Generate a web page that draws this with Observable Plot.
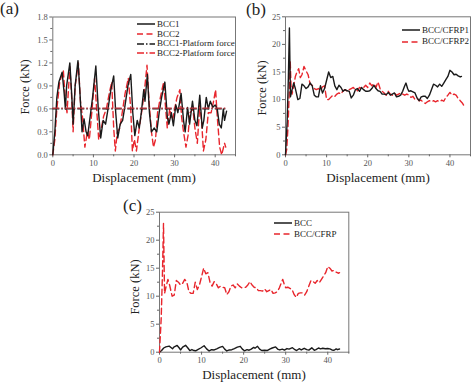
<!DOCTYPE html>
<html><head><meta charset="utf-8">
<script src="https://cdn.jsdelivr.net/npm/d3@7"></script>
<script src="https://cdn.jsdelivr.net/npm/@observablehq/plot@0.6"></script>
<style>
body{margin:0;background:#fff;}
#wrap{position:relative;width:474px;height:382px;overflow:hidden;font-family:"Times New Roman","Liberation Serif",Tinos,serif;color:#222;}
.p{position:absolute;}
.t{position:absolute;white-space:nowrap;line-height:1;}
.xt{font-size:13px;transform:translate(-50%,-50%);}
.yt{font-size:12.5px;transform:translate(-50%,-50%) rotate(-90deg);}
.pl{font-size:17px;}
.lg{position:absolute;font-size:9px;line-height:1;}
.lg div{display:flex;align-items:center;}
.lg svg{margin-right:2px;}
</style></head>
<body><div id="wrap"></div>
<script>
// ---------- data ----------
const xMajor = [0, 10, 20, 30, 40];
const xMinor = [5, 15, 25, 35, 45];
const yMajorA = [0, 0.3, 0.6, 0.9, 1.2, 1.5, 1.8];
const yMinorA = [0.15, 0.45, 0.75, 1.05, 1.35, 1.65];
const yMajorB = [0, 5, 10, 15, 20, 25];
const yMinorB = [2.5, 7.5, 12.5, 17.5, 22.5];

const bcc1X = [0,0.5,1,1.5,2.3,2.8,3.1,3.4,4.2,4.7,5.0,5.5,6.2,6.7,7.2,7.7,8.2,8.6,9.2,9.8,10.6,11.2,11.8,12.4,13,13.6,14.3,15,15.5,16,16.6,17.2,17.8,18.5,19.2,19.7,20.2,20.8,21.3,21.8,22.4,22.7,23.3,23.8,24.3,25,25.6,26.2,26.8,27.6,28.2,28.6,29.2,29.7,30.3,30.8,31.6,32.2,32.6,33.2,33.7,34.4,35,35.5,36.2,36.8,37.2,37.8,38.3,38.8,39.4,40,40.5,41,41.5,42,42.3,42.8];
const bcc1Y = [0,0.3,0.75,0.95,1.08,0.8,0.6,0.9,1.2,0.75,0.4,0.9,1.23,0.8,0.3,0.47,0.3,0.25,0.5,0.75,1.16,0.6,0.22,0.45,0.4,0.6,0.85,1.03,0.55,0.22,0.4,0.45,0.65,0.9,1.05,0.55,0.25,0.45,0.35,0.55,0.85,0.7,1.05,0.55,0.3,0.35,0.3,0.55,0.75,0.95,0.5,0.4,0.55,0.38,0.65,0.55,0.8,0.45,0.3,0.62,0.4,0.7,0.45,0.38,0.78,0.35,0.45,0.75,0.6,0.7,0.62,0.65,0.6,0.4,0.35,0.6,0.45,0.57];
const bcc2X = [0,0.5,1,1.7,2.6,3.1,3.5,4.2,4.6,5.0,5.5,6.3,6.8,7.3,7.9,8.5,9,9.6,10.3,10.8,11.3,11.8,12.5,13.2,13.9,14.5,15,15.4,15.9,16.5,17.1,17.8,18.6,19.2,19.6,20.1,20.6,21.3,22,22.6,23.2,23.7,24.3,24.8,25.3,25.8,26.5,27.3,27.8,28.2,28.8,29.5,30,30.6,31.3,31.7,32.2,32.8,33.3,33.8,34.5,35,35.6,36.2,36.7,37.1,37.7,38.3,39,39.6,40.1,40.5,41.1,41.6,42.3,42.6];
const bcc2Y = [0,0.2,0.6,0.95,1.1,0.7,0.55,1.15,0.8,0.3,0.9,1.2,0.7,0.5,0.1,0.3,0.2,0.55,1.0,0.6,0.2,0.3,0.5,0.6,0.8,0.95,0.35,0.05,0.3,0.35,0.55,0.8,1.0,0.6,0.05,0.2,0.05,0.35,0.6,0.85,1.17,0.7,0.3,0.1,0.2,0.55,0.75,0.95,0.6,0.35,0.6,0.45,0.6,0.75,0.85,0.5,0.3,0.1,0.25,0.55,0.6,0.35,0.15,0.65,0.4,0.05,0.2,0.55,0.55,0.7,0.85,0.5,0.1,0.0,0.15,0.1];
const platformRange = [0, 42.8];
const platformBCC1 = [0.60];
const platformBCC2 = [0.61];

const cfrp1X = [0,0.4,0.7,0.95,1.2,1.5,2.0,2.4,3.0,3.5,4.0,4.5,5.0,5.5,6.0,6.5,7.0,7.5,8.0,8.5,9.0,9.5,10.0,10.5,11.0,11.5,12.0,12.5,13.0,13.5,14.0,14.5,15.0,15.5,16.0,16.5,17.0,17.5,18.0,18.5,19.0,19.5,20.0,20.5,21.0,21.5,22.0,22.5,23.0,23.5,24.0,24.5,25.0,25.5,26.0,26.5,27.0,27.5,28.0,28.5,29.0,29.3,29.7,30.0,30.5,31.0,31.5,32.0,32.5,33.0,33.5,34.0,34.5,35.0,35.5,36.0,36.5,37.0,37.5,38.0,38.5,39.0,39.5,40.0,40.5,41.0,41.5,42.0,42.5,42.8];
const cfrp1Y = [0,6,14,23,10.5,11.5,13,12,10,10.2,12.8,12.5,12,12.3,13,12.5,10.8,10.5,10.5,12.5,11.2,12,13.5,15,14,14.2,12.5,11.8,12.6,12.2,11.5,11.8,11.6,11.5,10.3,10.8,11.8,12,11.5,12.2,11.8,11.5,11.5,11.6,12,12.6,12,11.6,11.5,11,11,10.9,11.3,10.8,11,11.2,10.5,10.6,10.8,11.5,12.5,13,12,11.5,11.6,11.4,11.2,10.3,9.8,10.5,10.6,10.6,10.2,10.8,11.8,12.8,12.6,12.3,12.8,12.4,13,13.6,14.2,15.3,15,14.5,14.6,14.3,14.1,14.2];
const cfrp2X = [0,0.3,0.6,0.8,1.0,1.15,1.35,1.6,2.0,2.4,2.8,3.2,3.6,4.0,4.5,5.0,5.5,6.0,6.5,7.0,7.5,8.0,8.5,9.0,9.5,10.0,10.5,11.0,11.5,12.0,12.5,13.0,13.5,14.0,14.5,15.0,15.5,16.0,16.5,17.0,17.5,18.0,18.5,19.0,19.5,20.0,20.5,21.0,21.5,22.0,22.5,23.0,23.5,24.0,24.5,25.0,25.5,26.0,26.5,27.0,27.5,28.0,28.5,29.0,29.5,30.0,30.5,31.0,31.5,32.0,32.5,33.0,33.5,34.0,34.5,35.0,35.5,36.0,36.5,37.0,37.5,38.0,38.5,39.0,39.5,40.0,40.5,41.0,41.5,42.0,42.5,43.0,43.5];
const cfrp2Y = [0,1,5,9,13,17,12.5,11,12.5,14.2,15,15.6,14,14.5,16,15.2,14.5,12.8,12.6,12,11.8,12,11.7,12.3,12.5,10,10,10.4,10.8,10.6,11,11.2,11,11.6,11.8,11.5,11.8,12,12.2,11.8,11.6,12.2,12,12.2,12.6,12.2,13,12.5,12.9,12.2,13.2,12,11.5,11.2,10.8,11.5,11,10.8,11.2,10.8,11,11.2,11,10.8,11,10.8,10.4,10.6,10,10.2,9.8,9.9,9.5,9.3,9.6,9.8,9.6,9.8,9.6,9.8,9.6,9.9,9.7,10.4,10.8,11.3,10.8,11,10.8,10.2,9.8,9.4,8.8];

// ---------- styles ----------
const BLACK = "#1a1a1a", RED = "#e8262d";
const DASH = "6,3.5", DASHDOT = "7,2,1.5,2";
const FONT = "'Times New Roman', 'Liberation Serif', Tinos, serif";

function panel({left, top, width, height, mt, mr, mb, ml, yDomain, yMajor, yMinor, yFmt, lines}) {
  const p = Plot.plot({
    width, height, marginTop: mt, marginRight: mr, marginBottom: mb, marginLeft: ml,
    x: {domain: [0, 45]},
    y: {domain: yDomain},
    style: {fontFamily: FONT, fontSize: "8.5px", color: "#555", background: "transparent", overflow: "visible"},
    marks: [
      Plot.frame({stroke: "#777", strokeWidth: 1}),
      Plot.axisX({ticks: xMajor, tickSize: 3, tickPadding: 2, tickFormat: d => d, label: null, stroke: "#666"}),
      Plot.axisX({ticks: xMinor, tickSize: 2, tickFormat: () => "", label: null, stroke: "#666"}),
      Plot.axisY({ticks: yMajor, tickSize: 3, tickPadding: 2, tickFormat: yFmt, label: null, stroke: "#666"}),
      Plot.axisY({ticks: yMinor, tickSize: 2, tickFormat: () => "", label: null, stroke: "#666"}),
      ...lines
    ]
  });
  p.classList.add("p");
  p.style.left = left + "px"; p.style.top = top + "px";
  return p;
}

const wrap = document.getElementById("wrap");

// Panel (a)
wrap.appendChild(panel({
  left: 0, top: 0, width: 240, height: 190, mt: 16.5, mr: 5, mb: 35.7, ml: 52.3,
  yDomain: [0, 1.8], yMajor: yMajorA, yMinor: yMinorA, yFmt: d => d.toFixed(1),
  lines: [
    Plot.line(bcc2Y, {x: bcc2X, y: bcc2Y, stroke: RED, strokeWidth: 1.4, strokeDasharray: DASH}),
    Plot.line(bcc1Y, {x: bcc1X, y: bcc1Y, stroke: BLACK, strokeWidth: 1.4}),
    Plot.ruleY(platformBCC1, {x1: platformRange[0], x2: platformRange[1], stroke: BLACK, strokeWidth: 1.3, strokeDasharray: DASHDOT}),
    Plot.ruleY(platformBCC2, {x1: platformRange[0], x2: platformRange[1], stroke: "#c0303a", strokeWidth: 1.3, strokeDasharray: DASHDOT})
  ]
}));

// Panel (b)
wrap.appendChild(panel({
  left: 240, top: 0, width: 234, height: 190, mt: 16.3, mr: 4, mb: 35.7, ml: 45,
  yDomain: [0, 25], yMajor: yMajorB, yMinor: yMinorB, yFmt: d => d,
  lines: [
    Plot.line(cfrp2Y, {x: cfrp2X, y: cfrp2Y, stroke: RED, strokeWidth: 1.4, strokeDasharray: DASH}),
    Plot.line(cfrp1Y, {x: cfrp1X, y: cfrp1Y, stroke: BLACK, strokeWidth: 1.4})
  ]
}));

// Panel (c)
wrap.appendChild(panel({
  left: 110, top: 190, width: 260, height: 192, mt: 21.7, mr: 21.7, mb: 30.3, ml: 49,
  yDomain: [0, 25], yMajor: yMajorB, yMinor: yMinorB, yFmt: d => d,
  lines: [
    Plot.line(bcc1Y, {x: bcc1X, y: bcc1Y, stroke: BLACK, strokeWidth: 1.4}),
    Plot.line(cfrp1Y, {x: cfrp1X, y: cfrp1Y, stroke: RED, strokeWidth: 1.4, strokeDasharray: DASH})
  ]
}));

// ---------- text ----------
function txt(cls, x, y, s) {
  const d = document.createElement("div");
  d.className = "t " + cls; d.style.left = x + "px"; d.style.top = y + "px"; d.textContent = s;
  wrap.appendChild(d);
}
txt("pl", 0, 0, "(a)");
txt("pl", 246, 1, "(b)");
txt("pl", 123, 197, "(c)");
txt("xt", 144, 177, "Displacement (mm)");
txt("xt", 378, 177, "Displacement (mm)");
txt("xt", 254, 374, "Displacement (mm)");
txt("yt", 25, 87, "Force (kN)");
txt("yt", 262, 88, "Force (kN)");
txt("yt", 135, 287, "Force (kN)");

function legend(x, y, rowH, items) {
  const g = document.createElement("div");
  g.className = "lg"; g.style.left = x + "px"; g.style.top = y + "px";
  items.forEach(([label, color, dash]) => {
    const r = document.createElement("div");
    r.style.height = rowH + "px";
    r.innerHTML = `<svg width="18" height="6"><line x1="0" y1="3" x2="18" y2="3" stroke="${color}" stroke-width="1.5" ${dash ? `stroke-dasharray="${dash}"` : ""}/></svg><span>${label}</span>`;
    g.appendChild(r);
  });
  wrap.appendChild(g);
}
legend(137, 19.5, 9.7, [["BCC1", BLACK, null], ["BCC2", RED, DASH], ["BCC1-Platform force", BLACK, DASHDOT], ["BCC2-Platform force", RED, DASHDOT]]);
legend(402, 24.5, 11.5, [["BCC/CFRP1", BLACK, null], ["BCC/CFRP2", RED, DASH]]);
legend(274, 218, 10.7, [["BCC", BLACK, null], ["BCC/CFRP", RED, DASH]]);
</script></body></html>
